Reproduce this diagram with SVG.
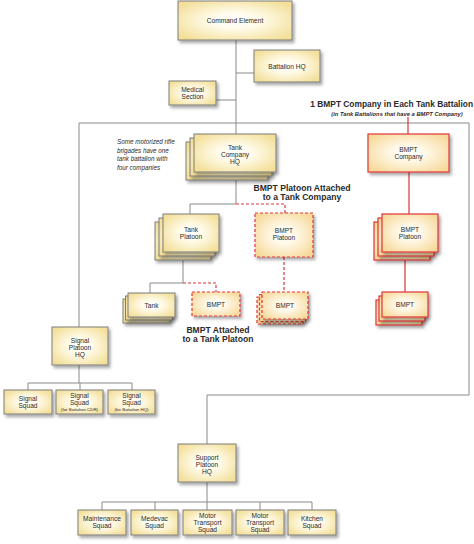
<svg xmlns="http://www.w3.org/2000/svg" width="474" height="544" viewBox="0 0 474 544">
<defs>
<radialGradient id="g" cx="50%" cy="50%" r="62%">
<stop offset="0" stop-color="#ffffff"/>
<stop offset="0.35" stop-color="#fffbea"/>
<stop offset="1" stop-color="#f3df98"/>
</radialGradient>
<radialGradient id="gr" cx="50%" cy="50%" r="62%">
<stop offset="0" stop-color="#ffffff"/>
<stop offset="0.35" stop-color="#fff8e6"/>
<stop offset="1" stop-color="#f6d99a"/>
</radialGradient>
<filter id="sh" x="-20%" y="-20%" width="150%" height="160%">
<feDropShadow dx="2" dy="2.5" stdDeviation="1.6" flood-color="#000" flood-opacity="0.35"/>
</filter>
</defs>
<style>
.b{fill:url(#g);stroke:#7d7d7d;stroke-width:1;filter:url(#sh)}
.r{fill:url(#gr);stroke:#e0363c;stroke-width:1.2;filter:url(#sh)}
.rd{fill:url(#gr);stroke:#e0363c;stroke-width:1.2;stroke-dasharray:3 2;filter:url(#sh)}
.ln{fill:none;stroke:#8a8a8a;stroke-width:1}
.rl{fill:none;stroke:#d9363e;stroke-width:1.2}
.rdl{fill:none;stroke:#d9363e;stroke-width:1.2;stroke-dasharray:3 2}
text{font-family:"Liberation Sans","Open Sans",sans-serif;fill:#2a2a2a}
.t{font-size:6.6px;text-anchor:middle}
.s{font-size:4.4px;text-anchor:middle}
.h{font-size:8.6px;font-weight:bold;text-anchor:middle}
.n{font-size:6.3px;font-style:italic}
</style>
<g id="connectors">
<path class="ln" d="M236,40V134M236,73H254M216,100H236"/>
<path class="ln" d="M79,327V123H469V395H207V444"/>
<path class="ln" d="M79,365V383M28,390V383H132V390M80,383V390"/>
<path class="ln" d="M236,172V204H190V214"/>
<path class="ln" d="M183,260V283H150V293"/>
<path class="ln" d="M207,482V502M102,510V502H312V510M155,502V510M207,502V510M260,502V510"/>
<path class="rl" d="M408,117V134M409,172V214M405,252V292"/>
<path class="rdl" d="M236,204H285V213M183,283H216V292M284,257V292"/>
</g>
<g id="command-element"><rect class="b" x="178" y="1" width="114" height="39"/><text class="t" x="235" y="23">Command Element</text></g>
<g id="battalion-hq"><rect class="b" x="254" y="50" width="66" height="32"/><text class="t" x="287" y="68.5">Battalion HQ</text></g>
<g id="medical-section"><rect class="b" x="169" y="81" width="47" height="24"/><text class="t" x="192.5" y="91.5">Medical</text><text class="t" x="192.5" y="98.5">Section</text></g>
<g id="note"><text class="n" x="117" y="144">Some motorized rifle</text><text class="n" x="117" y="152.5">brigades have one</text><text class="n" x="117" y="161">tank battalion with</text><text class="n" x="117" y="169.5">four companies</text></g>
<g id="tank-company-hq"><rect class="b" x="186" y="142" width="82" height="38"/><rect class="b" x="190" y="138" width="82" height="38"/><rect class="b" x="194" y="134" width="82" height="38"/><text class="t" x="235" y="150">Tank</text><text class="t" x="235" y="157">Company</text><text class="t" x="235" y="164">HQ</text></g>
<g id="bmpt-company-title"><text class="h" x="473" y="107" style="font-size:8.4px;text-anchor:end">1 BMPT Company in Each Tank Battalion</text><text class="n" x="397" y="116" style="text-anchor:middle;font-size:5.8px;font-weight:bold;fill:#3a2a2a">(in Tank Battalions that have a BMPT Company)</text></g>
<g id="bmpt-company"><rect class="r" x="368" y="134" width="81" height="38"/><text class="t" x="408.5" y="152">BMPT</text><text class="t" x="408.5" y="159">Company</text></g>
<g id="bmpt-platoon-attached-label"><text class="h" x="302" y="191">BMPT Platoon Attached</text><text class="h" x="302" y="200">to a Tank Company</text></g>
<g id="tank-platoon"><rect class="b" x="155" y="222" width="56" height="38"/><rect class="b" x="159" y="218" width="56" height="38"/><rect class="b" x="163" y="214" width="56" height="38"/><text class="t" x="191" y="232">Tank</text><text class="t" x="191" y="239">Platoon</text></g>
<g id="bmpt-platoon-attached"><rect class="rd" x="255" y="213" width="58" height="44"/><text class="t" x="284" y="233">BMPT</text><text class="t" x="284" y="240">Platoon</text></g>
<g id="bmpt-platoon"><rect class="r" x="374" y="222" width="56" height="38"/><rect class="r" x="378" y="218" width="56" height="38"/><rect class="r" x="382" y="214" width="56" height="38"/><text class="t" x="410" y="232">BMPT</text><text class="t" x="410" y="239">Platoon</text></g>
<g id="tank"><rect class="b" x="123" y="299" width="47" height="24"/><rect class="b" x="125.5" y="296" width="47" height="24"/><rect class="b" x="128" y="293" width="47" height="24"/><text class="t" x="151.5" y="307.5">Tank</text></g>
<g id="bmpt-attached"><rect class="rd" x="192" y="292" width="48" height="24"/><text class="t" x="216" y="306.5">BMPT</text></g>
<g id="bmpt-attached-label"><text class="h" x="218" y="333">BMPT Attached</text><text class="h" x="218" y="342">to a Tank Platoon</text></g>
<g id="bmpt-platoon-squads"><rect class="rd" x="257" y="297" width="46" height="27"/><rect class="rd" x="259.5" y="294.5" width="46" height="27"/><rect class="rd" x="262" y="292" width="46" height="27"/><text class="t" x="285" y="307.5">BMPT</text></g>
<g id="bmpt"><rect class="r" x="376" y="300" width="46" height="25"/><rect class="r" x="379" y="296" width="46" height="25"/><rect class="r" x="382" y="292" width="46" height="25"/><text class="t" x="405" y="306.5">BMPT</text></g>
<g id="signal-platoon-hq"><rect class="b" x="52" y="327" width="56" height="38"/><text class="t" x="80" y="343">Signal</text><text class="t" x="80" y="350">Platoon</text><text class="t" x="80" y="357">HQ</text></g>
<g id="signal-squad-1"><rect class="b" x="4" y="390" width="48" height="24"/><text class="t" x="28" y="400.5">Signal</text><text class="t" x="28" y="407.5">Squad</text></g>
<g id="signal-squad-2"><rect class="b" x="56" y="390" width="47" height="24"/><text class="t" x="79.5" y="397.5">Signal</text><text class="t" x="79.5" y="404.5">Squad</text><text class="s" x="79.5" y="411">(for Battalion CDR)</text></g>
<g id="signal-squad-3"><rect class="b" x="108" y="390" width="47" height="24"/><text class="t" x="131.5" y="397.5">Signal</text><text class="t" x="131.5" y="404.5">Squad</text><text class="s" x="131.5" y="411">(for Battalion HQ)</text></g>
<g id="support-platoon-hq"><rect class="b" x="178" y="444" width="58" height="38"/><text class="t" x="207" y="460">Support</text><text class="t" x="207" y="467">Platoon</text><text class="t" x="207" y="474">HQ</text></g>
<g id="maintenance-squad"><rect class="b" x="78" y="510" width="48" height="25"/><text class="t" x="102" y="520.5">Maintenance</text><text class="t" x="102" y="527.5">Squad</text></g>
<g id="medevac-squad"><rect class="b" x="131" y="510" width="47" height="25"/><text class="t" x="154.5" y="520.5">Medevac</text><text class="t" x="154.5" y="527.5">Squad</text></g>
<g id="motor-transport-squad-1"><rect class="b" x="183" y="510" width="49" height="25"/><text class="t" x="207.5" y="517.5">Motor</text><text class="t" x="207.5" y="524.5">Transport</text><text class="t" x="207.5" y="531.5">Squad</text></g>
<g id="motor-transport-squad-2"><rect class="b" x="236" y="510" width="48" height="25"/><text class="t" x="260" y="517.5">Motor</text><text class="t" x="260" y="524.5">Transport</text><text class="t" x="260" y="531.5">Squad</text></g>
<g id="kitchen-squad"><rect class="b" x="288" y="510" width="48" height="25"/><text class="t" x="312" y="520.5">Kitchen</text><text class="t" x="312" y="527.5">Squad</text></g>
</svg>
